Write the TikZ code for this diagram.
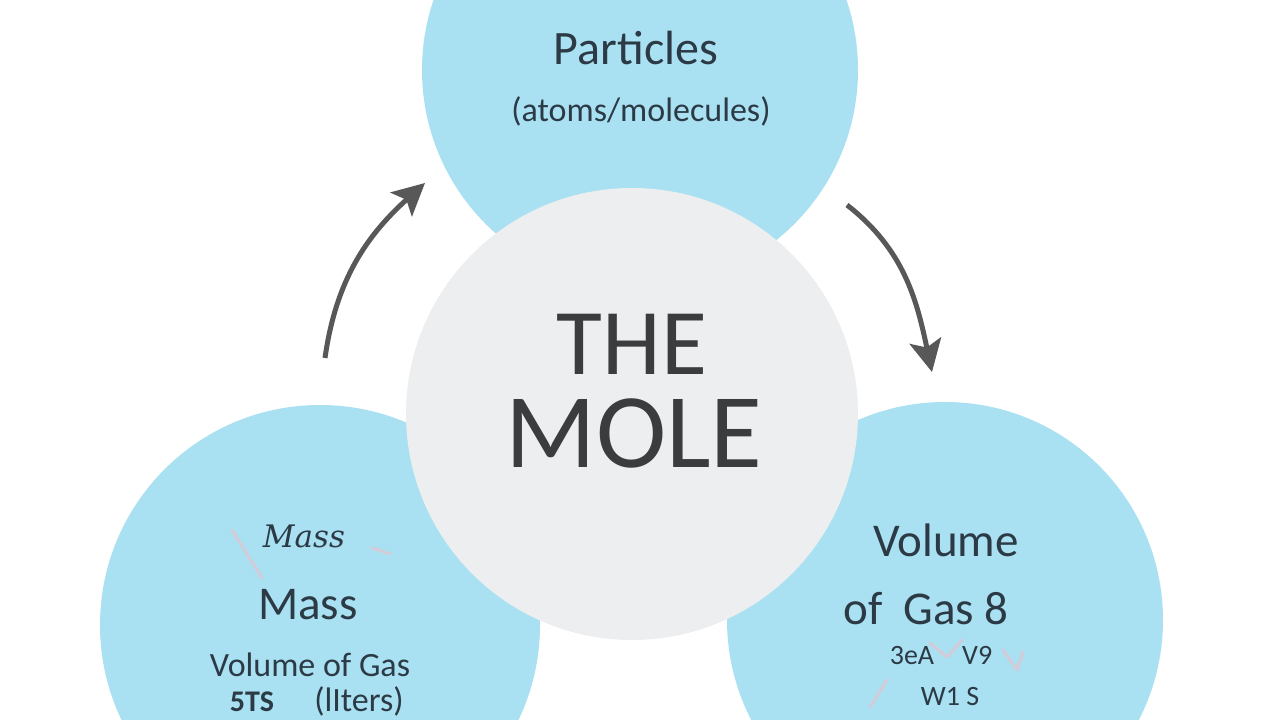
\documentclass[tikz,border=0pt]{standalone}
\usepackage{fontspec}
\setmainfont{Carlito}
\newfontfamily\handfont{DejaVu Serif}
\usetikzlibrary{arrows.meta}
\definecolor{bubbleblue}{RGB}{169,225,242}
\definecolor{molegray}{RGB}{237,238,239}
\definecolor{inkdark}{RGB}{44,58,70}
\definecolor{molegrey}{RGB}{58,60,62}
\definecolor{arrowgray}{RGB}{88,88,88}
\definecolor{pinkmark}{RGB}{240,190,200}
\tikzset{
	bubble/.style={circle,fill=bubbleblue,inner sep=0pt,minimum size=#1},
	txt/.style={text=inkdark,inner sep=0pt,anchor=base,font=\fontsize{#1}{#1}\selectfont},
	arrowline/.style={draw=arrowgray,line width=5pt,-{Stealth[length=32pt,width=32pt,inset=7pt]}},
	scribble/.style={draw=pinkmark,line width=3pt,line cap=round,line join=round,opacity=.6}
}
\begin{document}
\begin{tikzpicture}[x=1pt,y=1pt]
	\useasboundingbox (0,0) rectangle (1280,720);
	\clip (0,0) rectangle (1280,720);
	\fill[white] (0,0) rectangle (1280,720);
	% the three outer circles
	\node[bubble=436pt] (part) at (640,650) {};
	\node[bubble=440pt] (mass) at (320,95) {};
	\node[bubble=436pt] (gas)  at (945,100) {};
	% centre circle on top
	\node[circle,fill=molegray,inner sep=0pt,minimum size=452pt] (mole) at (632,306) {};
	% texts
	\node[txt=48] (partT) at (636,655) {Particles};
	\node[txt=34] (partS) at (641,598) {(atoms/molecules)};
	\node[txt=94,text=molegrey,text depth=0pt] (the) at (632,345) {THE};
	\node[txt=106,text=molegrey,text height=76pt] (moleT) at (634,252) {MOLE};
	\node[txt=47] (gasT) at (946,163) {Volume};
	\node[txt=47] (gasS) at (926,95) {of~ Gas 8};
	\node[txt=28] (gasA) at (941,55) {3eA\quad V9};
	\node[txt=28] (gasB) at (950,14) {W1 S};
	\node[txt=30,font=\handfont\itshape\fontsize{31}{31}\selectfont] (massH) at (304,172) {Mass};
	\node[txt=47] (massT) at (308,100) {Mass};
	\node[txt=34] (massS) at (310,43) {Volume of Gas};
	\node[txt=30,font=\bfseries\fontsize{30}{30}\selectfont] (massA) at (252,8) {5TS};
	\node[txt=34] (massB) at (359,8) {(lIters)};
	% faint pink marks
	\draw[scribble] (232,190) -- (262,142);
	\draw[scribble] (372,172) -- (390,166);
	\draw[scribble] (870,13) -- (887,40);
	\draw[scribble] (930,77) -- (947,63) -- (962,80);
	\draw[scribble] (1003,70) -- (1017,50) -- (1023,68);
	% arrows
	\coordinate (upS) at (325,362);
	\coordinate (upE) at (425,537);
	\draw[arrowline] (upS) to[out=82,in=222] (upE);
	\coordinate (dnS) at (847,515);
	\coordinate (dnE) at (932,348);
	\draw[arrowline] (dnS) to[out=-38,in=102] (dnE);
\end{tikzpicture}
\end{document}
